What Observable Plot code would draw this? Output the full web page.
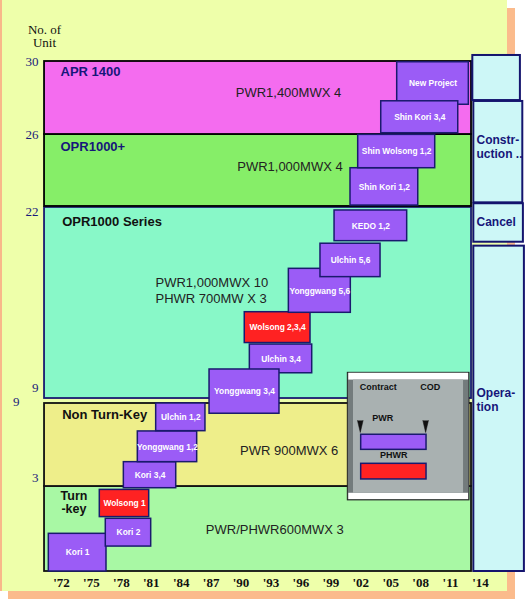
<!DOCTYPE html>
<html><head><meta charset="utf-8">
<script src="https://cdn.jsdelivr.net/npm/d3@7"></script>
<script src="https://cdn.jsdelivr.net/npm/@observablehq/plot@0.6"></script>
<style>
html,body{margin:0;padding:0;background:#fff;}
#wrap{position:relative;width:525px;height:599px;overflow:hidden;}
#bg{position:absolute;left:0;top:0;width:505px;height:591px;background:#eeffaa;border-left:2px solid #f8b88a;box-shadow:8px 8px 0 #fbbb8c;}
#chart{position:absolute;left:0;top:0;}
</style></head><body>
<div id="wrap"><div id="bg"></div><div id="chart"></div></div>
<script>
// ---- data ----
// reactor generations (unit ranges on the cumulative "No. of Unit" axis)
const groupNames = ["Turn\n-key", "Non Turn-Key", "OPR1000 Series", "OPR1000+", "APR 1400"];
const groupFrom  = [0, 3, 9.33, 22.03, 26];
const groupTo    = [3, 9, 21.97, 26, 30];
const groupSpec  = ["PWR/PHWR600MWX 3", "PWR 900MWX 6", "PWR1,000MWX 10\nPHWR 700MW X 3", "PWR1,000MWX 4", "PWR1,400MWX 4"];
const groupSpecYear = [1993.38, 1994.82, 1981.42, 1994.9, 1994.75];
const groupSpecUnit = [1.48, 5.60, 16.53, 24.21, 28.27];
const groupLabelYear = [1973.25, 1972.07, 1972.07, 1971.9, 1971.9];
const groupLabelUnit = [2.45, 8.21, 21.01, 25.34, 29.42];
const groupSpanYears = [1970.3, 2013.1];

// plants: contract year -> commercial operation year
const plantNames = ["Kori 1", "Kori 2", "Wolsong 1", "Kori 3,4", "Yonggwang 1,2", "Ulchin 1,2", "Ulchin 3,4", "Yonggwang 3,4", "Wolsong 2,3,4", "Yonggwang 5,6", "Ulchin 5,6", "KEDO 1,2", "Shin Kori 1,2", "Shin Wolsong 1,2", "New Project", "Shin Kori 3,4"];
const plantType  = ["PWR", "PWR", "PHWR", "PWR", "PWR", "PWR", "PWR", "PWR", "PHWR", "PWR", "PWR", "PWR", "PWR", "PWR", "PWR", "PWR"];
const plantContract = [1970.73, 1976.44, 1975.84, 1978.25, 1979.65, 1981.49, 1990.88, 1986.84, 1990.37, 1994.79, 1997.96, 1999.37, 2000.97, 2001.74, 2005.65, 2004.05];
const plantCOD      = [1976.51, 1980.99, 1980.79, 1983.5, 1985.6, 1986.43, 1997.13, 1993.85, 1996.96, 2001.0, 2003.98, 2006.65, 2007.76, 2009.46, 2012.83, 2011.77];
const plantUnitFrom = [0, 0.88, 1.92, 2.94, 4.76, 7.0, 11.0, 8.26, 13.0, 15.0, 17.36, 19.74, 22.08, 24.14, 27.63, 26.07];
const plantUnitTo   = [1.33, 1.86, 2.88, 4.76, 6.98, 9.0, 12.9, 11.25, 15.04, 17.91, 19.57, 21.77, 24.14, 25.98, 29.96, 27.82];

// status column
const statusNames = ["", "Constr-\nuction ..", "Cancel", "Opera-\ntion"];
const statusFrom  = [27.86, 22.23, 19.67, 0];
const statusTo    = [30.33, 27.81, 22.18, 19.41];
const statusEnd   = [2018.0, 2018.24, 2018.3, 2018.4];
const statusStart = [2013.23, 2013.33, 2013.33, 2013.33];
const statusLabelUnit = [28.9, 25.34, 21.04, 9.26];
const statusLabelYear = 2013.6;

// axes
const yTickText = ["30", "26", "22", "9", "9", "3"];
const yTickUnit = [30, 26, 21.7, 10.03, 9.09, 3.65];
const yTickYear = [1969.69, 1969.69, 1969.69, 1969.69, 1967.79, 1969.69];
const xTicks = [1972, 1975, 1978, 1981, 1984, 1987, 1990, 1993, 1996, 1999, 2002, 2005, 2008, 2011, 2014];

// legend (in chart coordinates)
const legendFrame = {x1: 2000.7, x2: 2012.9, y1: 2.51, y2: 11.03};
const legendFace  = {x1: 2001.27, x2: 2012.3, y1: 2.76, y2: 10.55};
const legendText  = ["Contract", "COD", "PWR", "PHWR"];
const legendTextYear = [2003.75, 2008.96, 2004.21, 2005.31];
const legendTextUnit = [10.06, 10.06, 7.95, 5.24];
const legendBarType = ["PWR", "PHWR"];
const legendBarFrom = [5.65, 3.51];
const legendBarTo   = [6.74, 4.64];
const legendBarYears = [2002.04, 2008.59];
const legendMarkUnit = 7.77;

// ---- scales ----
// the unit axis is drawn with unequal spacing per generation band:
// a piecewise warp (units -> linear layout units) used as the y scale's transform
const yBreaks = [0, 3, 9, 22, 26, 30];
const yWarpTo = [0, 85, 168, 364.5, 437, 510];
const warp = d3.scaleLinear().domain(yBreaks).range(yWarpTo);
const midUnit = (a, b) => warp.invert((warp(a) + warp(b)) / 2);

// ---- styles ----
const SANS = "Liberation Sans, Arial, Helvetica, sans-serif";
const SERIF = "Liberation Serif, Times New Roman, serif";
const NAVY = "#16167a";
const PURPLE = "#9b5cf6";
const RED = "#ff2222";
const groupFill = {"Turn\n-key": "#a8f8a4", "Non Turn-Key": "#eeee8a", "OPR1000 Series": "#88f8c8", "OPR1000+": "#86ee68", "APR 1400": "#f46cef"};
const groupStroke = {"Turn\n-key": "#111", "Non Turn-Key": "#111", "OPR1000 Series": "#1a1a70", "OPR1000+": "#000", "APR 1400": "#000"};
const groupLabelFill = {"Turn\n-key": "#111", "Non Turn-Key": "#111", "OPR1000 Series": "#111", "OPR1000+": NAVY, "APR 1400": NAVY};

const groups = groupNames.map((name, i) => ({name, from: groupFrom[i], to: groupTo[i], spec: groupSpec[i], sx: groupSpecYear[i], sy: groupSpecUnit[i], lx: groupLabelYear[i], ly: groupLabelUnit[i]}));
const plants = plantNames.map((name, i) => ({name, type: plantType[i], c: plantContract[i], o: plantCOD[i], f: plantUnitFrom[i], t: plantUnitTo[i]}));
const status = statusNames.map((name, i) => ({name, f: statusFrom[i], t: statusTo[i], s: statusStart[i], e: statusEnd[i], ly: statusLabelUnit[i]}));
const yTicks = yTickText.map((t, i) => ({t, u: yTickUnit[i], yr: yTickYear[i]}));
const legTexts = legendText.map((t, i) => ({t, x: legendTextYear[i], y: legendTextUnit[i]}));
const legBars = legendBarType.map((type, i) => ({type, f: legendBarFrom[i], t: legendBarTo[i]}));
const legMarks = legendBarYears.map(x => ({x: x - 0.09, y: legendMarkUnit}));

const chart = Plot.plot({
  width: 525, height: 599, margin: 0,
  x: {domain: [1972, 2014], range: [61, 480], axis: null},
  y: {transform: warp, domain: [0, 510], range: [571, 61], axis: null},
  color: {type: "identity"},
  style: {background: "transparent", fontFamily: SANS, overflow: "visible"},
  marks: [
    // generation bands
    Plot.rect(groups, {x1: () => groupSpanYears[0], x2: () => groupSpanYears[1], y1: "from", y2: "to",
      fill: d => groupFill[d.name], stroke: d => groupStroke[d.name], strokeWidth: 1.8}),
    Plot.text(groups.filter(d => d.name.includes("\n")), {x: "lx", y: "ly", text: "name", textAnchor: "middle",
      fontSize: 12.5, fontWeight: "bold", lineHeight: 1.1, fill: d => groupLabelFill[d.name], fontFamily: SANS}),
    Plot.text(groups.filter(d => !d.name.includes("\n")), {x: "lx", y: "ly", text: "name", textAnchor: "start",
      fontSize: 13, fontWeight: "bold", fill: d => groupLabelFill[d.name], fontFamily: SANS}),
    Plot.text(groups.filter(d => d.spec.includes("\n")), {x: "sx", y: "sy", text: "spec", textAnchor: "start",
      fontSize: 13, lineHeight: 1.27, fill: "#222", fontFamily: SANS}),
    Plot.text(groups.filter(d => !d.spec.includes("\n")), {x: "sx", y: "sy", text: "spec", textAnchor: "middle",
      fontSize: 13, fill: "#222", fontFamily: SANS}),
    // plants
    Plot.rect(plants, {x1: "c", x2: "o", y1: "f", y2: "t", fill: d => d.type === "PHWR" ? RED : PURPLE,
      stroke: "#1a1a6e", strokeWidth: 1.5}),
    Plot.text(plants, {x: d => (d.c + d.o) / 2, y: d => midUnit(d.f, d.t), text: "name", fill: "white",
      fontSize: 8.4, fontWeight: "bold", fontFamily: SANS}),
    // legend
    Plot.rect([legendFrame], {x1: "x1", x2: "x2", y1: "y1", y2: "y2", fill: "#737b7c", stroke: "#222", strokeWidth: 1}),
    Plot.rect([legendFrame], {x1: d => d.x1 + 0.1, x2: d => d.x2 - 0.1, y1: () => legendFace.y2, y2: d => d.y2 - 0.03, fill: "white"}),
    Plot.rect([legendFrame], {x1: d => d.x1 + 0.1, x2: d => d.x2 - 0.1, y1: d => d.y1 + 0.03, y2: () => legendFace.y1, fill: "white"}),
    Plot.rect([legendFace], {x1: "x1", x2: "x2", y1: "y1", y2: "y2", fill: "#a9b1b1"}),
    Plot.text(legTexts, {x: "x", y: "y", text: "t", fontSize: 9, fontWeight: "bold", fill: "#111", fontFamily: SANS}),
    Plot.rect(legBars, {x1: () => legendBarYears[0], x2: () => legendBarYears[1], y1: "f", y2: "t",
      fill: d => d.type === "PHWR" ? RED : PURPLE, stroke: "#1a1a6e", strokeWidth: 1.5}),
    Plot.vector(legMarks, {x: "x", y: "y", length: 12, rotate: 180, anchor: "start", shape: "spike", r: 2.8,
      fill: "#111", stroke: "#111", strokeWidth: 0.5}),
    // status column
    Plot.rect(status, {x1: "s", x2: "e", y1: "f", y2: "t", fill: "#cdf7f7", stroke: "#14146e", strokeWidth: 2}),
    Plot.text(status, {x: () => statusLabelYear, y: "ly", text: "name", textAnchor: "start", fontSize: 12,
      fontWeight: "bold", lineHeight: 1.17, fill: NAVY, fontFamily: SANS}),
    // axes
    Plot.text(yTicks, {x: "yr", y: "u", text: "t", textAnchor: "end", fontSize: 13, fill: "#1a1a7a", fontFamily: SERIF}),
    Plot.text(xTicks, {x: d => d, y: () => -0.39, text: d => "'" + String(d).slice(2), fontSize: 13, fontWeight: "bold", fill: "#111", fontFamily: SERIF}),
    Plot.text(["No. of\nUnit"], {x: () => 1970.3, y: () => 31.4, text: d => d, fontSize: 13, lineHeight: 1.04, fill: "#111", fontFamily: SERIF})
  ]
});
document.getElementById("chart").appendChild(chart);
</script>
</body></html>
